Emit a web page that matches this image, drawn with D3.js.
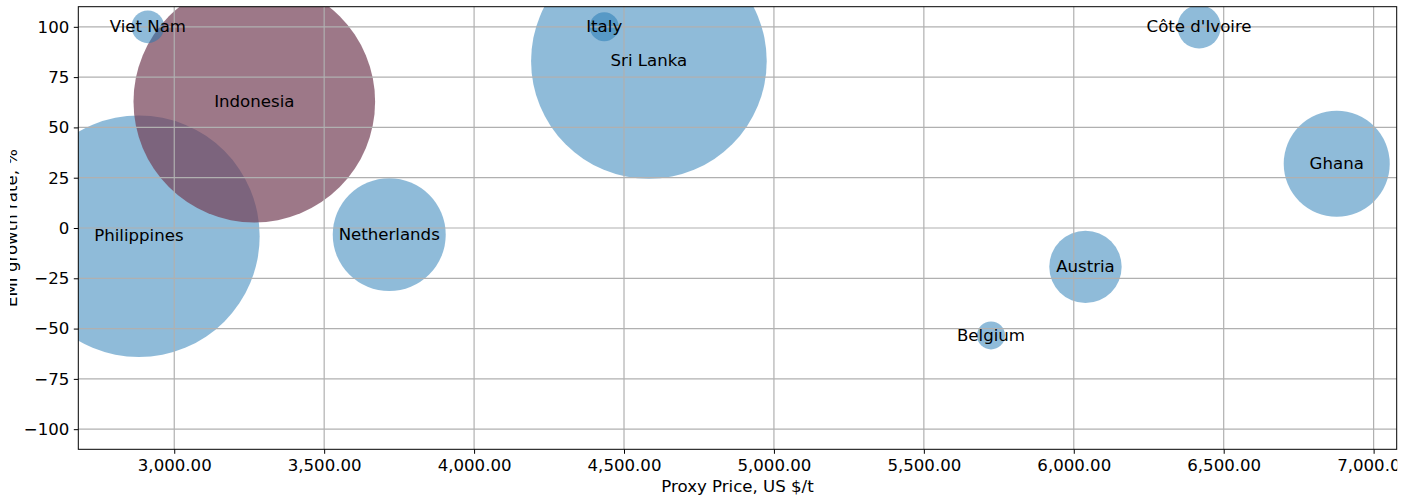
<!DOCTYPE html>
<html><head><meta charset="utf-8">
<script src="https://cdn.jsdelivr.net/npm/d3@7"></script>
<style>
html,body{margin:0;padding:0;background:#fff;}
text{font-family:"DejaVu Sans",sans-serif;}
</style></head>
<body>
<svg id="chart" width="1413" height="497"></svg>
<script>
// Data (drawing order)
const countries = ["Philippines","Indonesia","Viet Nam","Netherlands","Sri Lanka","Italy","Belgium","Austria","Côte d'Ivoire","Ghana"];
const proxyPrice = [2882, 3267, 2912, 3717, 4583, 4434, 5724, 6039, 6418, 6877];
const growthRate = [-4.1, 62.8, 100, -3.3, 83.0, 100, -53.4, -19.3, 100, 31.9];
const bubbleSize = [14590, 14590, 266, 3190, 13880, 210, 196, 1310, 470, 2810];
const highlighted = ["Indonesia"];
const xTicks = [3000, 3500, 4000, 4500, 5000, 5500, 6000, 6500, 7000];
const yTicks = [-100, -75, -50, -25, 0, 25, 50, 75, 100];
const xLabel = "Proxy Price, US $/t";
const yLabel = "EMI growth rate, %";

const W = 1413, H = 497;
const m = {left: 78.3, top: 6.7, right: 16.3, bottom: 47.7};
const iw = W - m.left - m.right, ih = H - m.top - m.bottom;

const svg = d3.select("#chart");
const x = d3.scaleLinear().domain([2680, 7077]).range([0, iw]);
const y = d3.scaleLinear().domain([-110, 110]).range([ih, 0]);
const r = d3.scaleSqrt().domain([0, d3.max(bubbleSize)]).range([0, 120.8]);

const defs = svg.append("defs");
defs.append("clipPath").attr("id","plotclip").append("rect").attr("width", iw).attr("height", ih);
defs.append("clipPath").attr("id","ylabclip").append("rect").attr("x", 10).attr("y", 0).attr("width", 100).attr("height", H);
defs.append("clipPath").attr("id","figclip").append("rect").attr("x", -m.left).attr("y", -m.top).attr("width", iw + m.left + 0.5).attr("height", H);

const g = svg.append("g").attr("transform", `translate(${m.left},${m.top})`);

const data = countries.map((c, i) => ({c, px: proxyPrice[i], gr: growthRate[i], s: bubbleSize[i]}));

// bubbles
g.append("g").attr("clip-path","url(#plotclip)")
  .selectAll("circle").data(data).join("circle")
  .attr("cx", d => x(d.px)).attr("cy", d => y(d.gr)).attr("r", d => r(d.s))
  .attr("fill", d => highlighted.includes(d.c) ? "rgb(116,62,86)" : "#1f77b4")
  .attr("fill-opacity", d => highlighted.includes(d.c) ? 0.7 : 0.5);

// grid
const grid = g.append("g");
grid.selectAll("line.vx").data(xTicks).join("line")
  .attr("x1", d => x(d)).attr("x2", d => x(d)).attr("y1", 0).attr("y2", ih)
  .attr("stroke", "#b0b0b0").attr("stroke-width", 1.2);
grid.selectAll("line.hy").data(yTicks).join("line")
  .attr("y1", d => y(d)).attr("y2", d => y(d)).attr("x1", 0).attr("x2", iw)
  .attr("stroke", "#b0b0b0").attr("stroke-width", 1.2);

// labels
g.append("g").selectAll("text").data(data).join("text")
  .attr("x", d => x(d.px)).attr("y", d => y(d.gr)).attr("dy", "0.31em")
  .attr("text-anchor", "middle").attr("font-size", "16.6px").attr("fill", "#000")
  .text(d => d.c);

// axes
const xAxis = g.append("g").attr("clip-path", "url(#figclip)").append("g").attr("transform", `translate(0,${ih})`)
  .call(d3.axisBottom(x).tickValues(xTicks).tickFormat(d3.format(",.2f")).tickSize(4.5).tickPadding(4.5));
const yAxis = g.append("g")
  .call(d3.axisLeft(y).tickValues(yTicks).tickFormat(d3.format("d")).tickSize(4.5).tickPadding(4.5));
[xAxis, yAxis].forEach(a => {
  a.selectAll("text").attr("font-size", "16.6px").attr("fill", "#000").attr("font-family", "DejaVu Sans");
  a.selectAll(".tick line").attr("stroke", "#000").attr("stroke-width", 1);
  a.select(".domain").remove();
});
xAxis.selectAll("text").attr("dy", "0.74em");

// frame
g.append("rect").attr("width", iw).attr("height", ih).attr("fill", "none")
  .attr("stroke", "#000").attr("stroke-width", 1);

// axis titles
svg.append("text").attr("x", m.left + iw / 2).attr("y", 491.5).attr("text-anchor", "middle")
  .attr("font-size", "16.6px").attr("fill", "#000").text(xLabel);
svg.append("g").attr("clip-path", "url(#ylabclip)")
  .append("text").attr("transform", `translate(16.7,${m.top + ih / 2}) rotate(-90)`)
  .attr("text-anchor", "middle").attr("font-size", "16.6px").attr("fill", "#000").text(yLabel);
</script>
</body></html>
